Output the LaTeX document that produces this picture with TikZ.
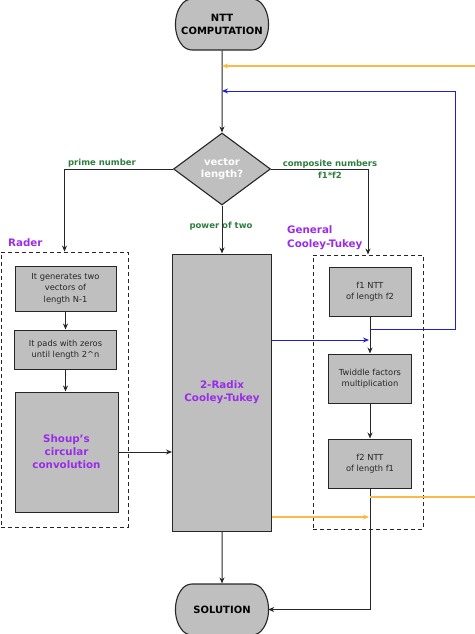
\documentclass[tikz,border=0pt]{standalone}
\usepackage{fontspec}
\setmainfont{DejaVu Sans}
\usetikzlibrary{shapes.geometric, shapes.misc, arrows.meta, calc}
\definecolor{boxgray}{HTML}{BFBFBF}
\definecolor{labelgreen}{HTML}{2E7D3E}
\definecolor{titlepurple}{HTML}{9B2BE8}
\definecolor{loopblue}{HTML}{1F1FD6}
\definecolor{looporange}{HTML}{FBBA48}

\begin{document}
\begin{tikzpicture}[x=1pt, y=-1pt,
  term/.style={rounded rectangle, rounded rectangle arc length=90, rounded corners=5pt, draw=black!85, line width=1.1pt, fill=boxgray, minimum width=98pt, minimum height=51pt, align=center, font=\fontsize{10}{12.5}\selectfont\bfseries},
  decision/.style={diamond, draw=black!85, line width=1.1pt, fill=boxgray, minimum width=97pt, minimum height=72pt, inner sep=0pt, align=center, text=white, font=\fontsize{10}{12.5}\selectfont\bfseries},
  stepbox/.style={rectangle, draw=black!85, line width=1pt, fill=boxgray, align=center, inner sep=0pt, text=black!85, font=\fontsize{8.3}{11.5}\selectfont},
  bigbox/.style={stepbox, text=titlepurple, font=\fontsize{10.3}{13}\selectfont\bfseries},
  group/.style={rectangle, draw=black!85, line width=0.9pt, dash pattern=on 4pt off 3pt},
  grouptitle/.style={text=titlepurple, font=\fontsize{10.3}{14}\selectfont\bfseries, align=left, anchor=west, inner sep=0pt},
  branch/.style={text=labelgreen, font=\fontsize{8.5}{11.5}\selectfont\bfseries, align=center, inner sep=0pt},
  link/.style={draw=black!85, line width=1pt},
  arrow/.style={link, -{Stealth[length=6pt, width=5pt]}},
  bluearrow/.style={-{Stealth[length=6pt, width=5pt]}, draw=loopblue, line width=0.9pt},
  orangelink/.style={draw=looporange, line width=1.1pt},
  orangearrow/.style={orangelink, -{Stealth[length=6pt, width=5pt]}}
]
  \useasboundingbox (0,0) rectangle (474,634);

  % Start, decision and end
  \node[term] (start) at (222,24.5) {NTT\\COMPUTATION};
  \node[decision] (length) at (222,169) {vector\\length?};
  \node[term] (solution) at (222,609.5) {SOLUTION};

  % Rader
  \node[group, minimum width=127pt, minimum height=275pt] (rader) at (64.5,389.5) {};
  \node[grouptitle] (radertitle) at (8,243) {Rader};
  \node[stepbox, minimum width=101pt, minimum height=45pt] (generate) at (65.5,288.5) {It generates two\\vectors of\\length N-1};
  \node[stepbox, minimum width=102pt, minimum height=39pt] (pad) at (65.5,349.5) {It pads with zeros\\until length 2\textasciicircum n};
  \node[bigbox, minimum width=103pt, minimum height=120pt] (shoup) at (66.5,452) {Shoup's\\circular\\convolution};

  % 2-Radix
  \node[bigbox, minimum width=99pt, minimum height=277pt] (radix) at (222,392.5) {2-Radix\\Cooley-Tukey};

  % General Cooley-Tukey
  \node[group, minimum width=110pt, minimum height=274pt] (general) at (368,392) {};
  \node[grouptitle] (generaltitle) at (287,238) {General\\Cooley-Tukey};
  \node[stepbox, minimum width=82pt, minimum height=49pt] (fone) at (370,291.5) {f1 NTT\\of length f2};
  \node[stepbox, minimum width=83pt, minimum height=49pt] (twiddle) at (370,378.5) {Twiddle factors\\multiplication};
  \node[stepbox, minimum width=83pt, minimum height=49pt] (ftwo) at (370,463.5) {f2 NTT\\of length f1};

  % Branch labels
  \node[branch] (primelbl) at (102,163.5) {prime number};
  \node[branch] (complbl) at (330,169.5) {composite numbers\\f1*f2};
  \node[branch] (twolbl) at (221,226) {power of two};

  % Main flow
  \draw[arrow] (start) -- (length);
  \draw[arrow] (length.west) -| (rader.north);
  \draw[arrow] (length.east) -| (general.north);
  \draw[arrow] (length) -- (radix);
  \draw[arrow] (radix) -- (solution);

  % Inside the groups
  \draw[arrow] (generate) -- (pad);
  \draw[arrow] (pad.south) -- (pad.south |- shoup.north);
  \draw[arrow] (shoup.east) -- (shoup.east -| radix.west);
  \draw[arrow] (fone) -- (twiddle);
  \draw[arrow] (twiddle) -- (ftwo);
  \draw[arrow] (ftwo.south) |- (solution.east);

  % Loops
  \coordinate (bluein) at (369,340);
  \coordinate (bluetap) at (370,329);
  \coordinate (blueturn) at (455,329);
  \coordinate (bluetop) at (455,91);
  \draw[bluearrow] (radix.east |- bluein) -- (bluein);
  \draw[bluearrow] (bluetap) -- (blueturn) -- (bluetop) -- (bluetop -| start.south);

  \coordinate (orangein) at (369,517);
  \coordinate (orangetap) at (370,497);
  \coordinate (orangeout) at (480,497);
  \coordinate (orangetop) at (480,66);
  \draw[orangearrow, line width=1.4pt] (radix.east |- orangein) -- (orangein);
  \draw[orangelink, line width=1.4pt] (orangetap) -- (orangeout);
  \draw[orangearrow] (orangetop) -- (orangetop -| start.south);
\end{tikzpicture}
\end{document}
